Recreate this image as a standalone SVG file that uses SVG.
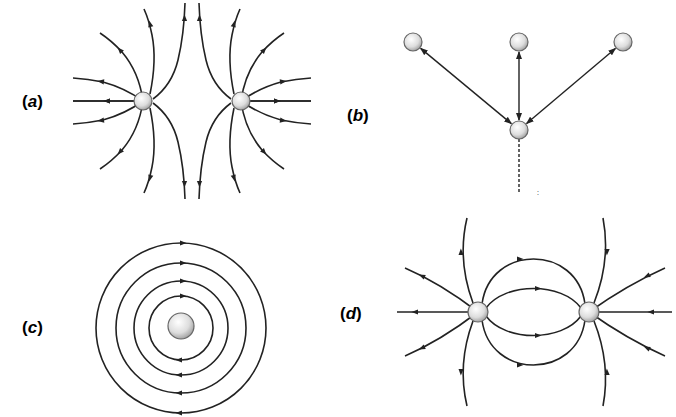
<svg xmlns="http://www.w3.org/2000/svg" xmlns:xlink="http://www.w3.org/1999/xlink" width="676" height="417" viewBox="0 0 676 417">
<style>
.l{fill:none;stroke:#222;stroke-width:1.6}
.c{stroke:#666;stroke-width:1.2;fill:url(#g)}
.t{font-family:"Liberation Sans",Arial,sans-serif;font-size:17px;font-weight:bold}
</style>
<defs>
<radialGradient id="g" cx="40%" cy="35%" r="70%"><stop offset="0" stop-color="#fff"/><stop offset="0.6" stop-color="#ddd"/><stop offset="1" stop-color="#999"/></radialGradient>
<path id="ah" d="M3.5,0 L-3,-2.6 L-3,2.6 Z" fill="#222"/>
<marker id="me" viewBox="-4 -3 8 6" markerWidth="8" markerHeight="6" refX="3" refY="0" orient="auto" markerUnits="userSpaceOnUse"><path d="M4,0 L-4,-3 L-4,3 Z" fill="#222"/></marker>
<marker id="ms" viewBox="-4 -3 8 6" markerWidth="8" markerHeight="6" refX="-3" refY="0" orient="auto" markerUnits="userSpaceOnUse"><path d="M-4,0 L4,-3 L4,3 Z" fill="#222"/></marker>
<g id="aq">
<path class="l" d="M143,101 L73,101"/><use xlink:href="#ah" transform="translate(107,101) rotate(180)"/>
<path class="l" d="M143,101 Q125,88 103,82 Q88,79 73,78"/><use xlink:href="#ah" transform="translate(101,81.5) rotate(188)"/>
<path class="l" d="M143,101 Q139,72 122,52 Q112,41 100,33"/><use xlink:href="#ah" transform="translate(120,50) rotate(228)"/>
<path class="l" d="M150,94 Q157,60 152,35 Q149,20 144,9"/><use xlink:href="#ah" transform="translate(150,24) rotate(255)"/>
<path class="l" d="M153,99 Q172,85 178,60 Q184,35 185,3"/><use xlink:href="#ah" transform="translate(184.5,18) rotate(270)"/>
</g>
<g id="ah2"><use xlink:href="#aq"/><use xlink:href="#aq" transform="translate(0,202) scale(1,-1)"/></g>
</defs>
<g id="connectors">
<g id="field-a"><use xlink:href="#ah2"/><use xlink:href="#ah2" transform="translate(384,0) scale(-1,1)"/></g>
<g id="field-b">
<path class="l" d="M511.3,123.6 L420.7,48.4" marker-start="url(#ms)" marker-end="url(#me)" style="stroke-width:1.4"/>
<path class="l" d="M519,120 L519,52" marker-start="url(#ms)" marker-end="url(#me)" style="stroke-width:1.4"/>
<path class="l" d="M526.6,123.5 L615.4,48.5" marker-start="url(#ms)" marker-end="url(#me)" style="stroke-width:1.4"/>
<path class="l" d="M519,139 L519,193" style="stroke-width:1.4;stroke-dasharray:3,2"/>
<text x="537" y="195" style="font-family:'Liberation Sans',sans-serif;font-size:7px">:</text>
</g>
<g id="field-c">
<circle class="l" cx="181" cy="328" r="32"/><circle class="l" cx="181" cy="328" r="47"/><circle class="l" cx="181" cy="328" r="65"/><circle class="l" cx="181" cy="328" r="85"/>
<use xlink:href="#ah" transform="translate(183,296)"/><use xlink:href="#ah" transform="translate(183,281)"/><use xlink:href="#ah" transform="translate(183,263)"/><use xlink:href="#ah" transform="translate(183,243)"/>
<use xlink:href="#ah" transform="translate(179,360) rotate(180)"/><use xlink:href="#ah" transform="translate(179,375) rotate(180)"/><use xlink:href="#ah" transform="translate(179,393) rotate(180)"/><use xlink:href="#ah" transform="translate(179,413) rotate(180)"/>
</g>
<g id="field-d">
<path class="l" d="M478,312 L397,312"/><use xlink:href="#ah" transform="translate(415,312) rotate(180)"/>
<path class="l" d="M478,312 Q440,283 405,268"/><use xlink:href="#ah" transform="translate(422,276) rotate(205)"/>
<path class="l" d="M478,312 Q440,341 405,356"/><use xlink:href="#ah" transform="translate(422,348) rotate(155)"/>
<path class="l" d="M473,303 Q457,260 467,218"/><use xlink:href="#ah" transform="translate(461,252) rotate(268)"/>
<path class="l" d="M473,321 Q457,364 467,406"/><use xlink:href="#ah" transform="translate(461,372) rotate(92)"/>
<path class="l" d="M672,312 L589,312"/><use xlink:href="#ah" transform="translate(651,312) rotate(180)"/>
<path class="l" d="M665,268 Q627,285 589,312"/><use xlink:href="#ah" transform="translate(647,276) rotate(155)"/>
<path class="l" d="M665,356 Q627,339 589,312"/><use xlink:href="#ah" transform="translate(647,348) rotate(205)"/>
<path class="l" d="M603,218 Q611,260 594,303"/><use xlink:href="#ah" transform="translate(607,252) rotate(92)"/>
<path class="l" d="M603,406 Q611,364 594,321"/><use xlink:href="#ah" transform="translate(607,372) rotate(268)"/>
<path class="l" d="M482,304 C490,244 577,244 585,304"/><use xlink:href="#ah" transform="translate(520,259)"/>
<path class="l" d="M486,308 C505,282 562,282 581,308"/><use xlink:href="#ah" transform="translate(538,288.5)"/>
<path class="l" d="M486,316 C505,342 562,342 581,316"/><use xlink:href="#ah" transform="translate(538,335.5)"/>
<path class="l" d="M482,320 C490,380 577,380 585,320"/><use xlink:href="#ah" transform="translate(520,365)"/>
</g>
</g>
<g id="a1"><circle class="c" cx="143" cy="101" r="9"/></g>
<g id="a2"><circle class="c" cx="241" cy="101" r="9"/></g>
<g id="b1"><circle class="c" cx="413" cy="42" r="9"/></g>
<g id="b2"><circle class="c" cx="519" cy="42" r="9"/></g>
<g id="b3"><circle class="c" cx="623" cy="42" r="9"/></g>
<g id="b4"><circle class="c" cx="519" cy="130" r="9"/></g>
<g id="c1"><circle class="c" cx="181" cy="326" r="13"/></g>
<g id="d1"><circle class="c" cx="478" cy="312" r="10"/></g>
<g id="d2"><circle class="c" cx="589" cy="312" r="10"/></g>
<g id="labels">
<text class="t" x="22" y="107">(<tspan font-style="italic">a</tspan>)</text>
<text class="t" x="347" y="121">(<tspan font-style="italic">b</tspan>)</text>
<text class="t" x="22" y="333">(<tspan font-style="italic">c</tspan>)</text>
<text class="t" x="340" y="319">(<tspan font-style="italic">d</tspan>)</text>
</g>
</svg>
